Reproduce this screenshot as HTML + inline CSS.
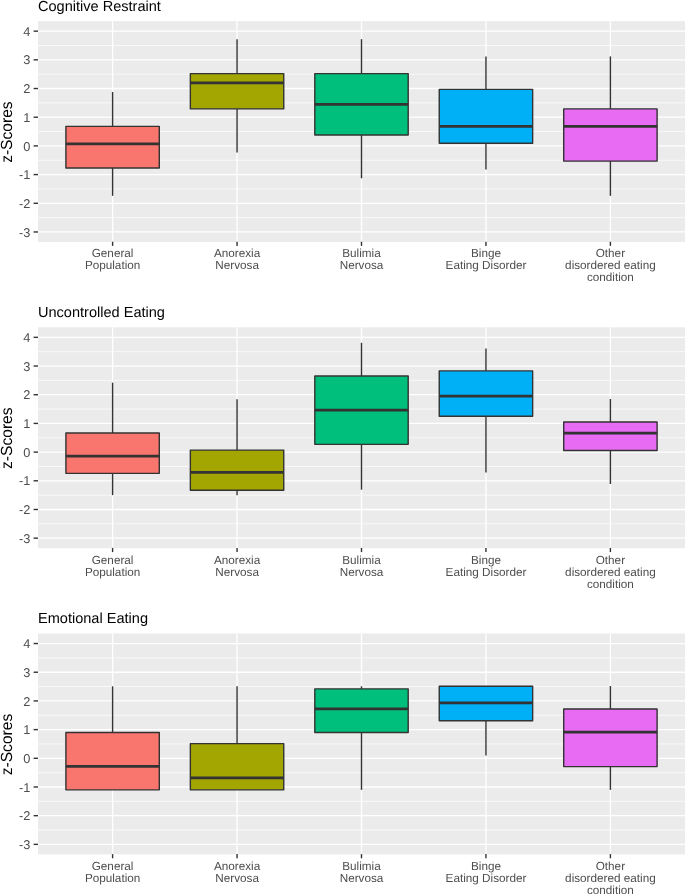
<!DOCTYPE html>
<html lang="en"><head><meta charset="utf-8"><title>Eating behaviour z-Scores</title>
<style>html,body{margin:0;padding:0;background:#fff}body{width:685px;height:895px;overflow:hidden}svg{display:block}text{font-family:"Liberation Sans",Arial,sans-serif;text-rendering:geometricPrecision}
.t{font-size:14.55px;fill:#000}.yt{font-size:15.6px;fill:#000}.ax{font-size:11.73px;fill:#4d4d4d}.ay{font-size:12.8px;fill:#4d4d4d}</style></head><body>
<svg width="685" height="895" viewBox="0 0 685 895">
<rect width="685" height="895" fill="#fff"/>
<g>
<text class="t" x="38.0" y="11.0">Cognitive Restraint</text>
<rect x="38.00" y="21.10" width="647.20" height="220.90" fill="#ebebeb"/>
<line x1="38.00" x2="685.20" y1="217.63" y2="217.63" stroke="#fff" stroke-width="0.7"/>
<line x1="38.00" x2="685.20" y1="188.94" y2="188.94" stroke="#fff" stroke-width="0.7"/>
<line x1="38.00" x2="685.20" y1="160.25" y2="160.25" stroke="#fff" stroke-width="0.7"/>
<line x1="38.00" x2="685.20" y1="131.56" y2="131.56" stroke="#fff" stroke-width="0.7"/>
<line x1="38.00" x2="685.20" y1="102.87" y2="102.87" stroke="#fff" stroke-width="0.7"/>
<line x1="38.00" x2="685.20" y1="74.18" y2="74.18" stroke="#fff" stroke-width="0.7"/>
<line x1="38.00" x2="685.20" y1="45.49" y2="45.49" stroke="#fff" stroke-width="0.7"/>
<line x1="38.00" x2="685.20" y1="231.97" y2="231.97" stroke="#fff" stroke-width="1.3"/>
<line x1="38.00" x2="685.20" y1="203.28" y2="203.28" stroke="#fff" stroke-width="1.3"/>
<line x1="38.00" x2="685.20" y1="174.59" y2="174.59" stroke="#fff" stroke-width="1.3"/>
<line x1="38.00" x2="685.20" y1="145.90" y2="145.90" stroke="#fff" stroke-width="1.3"/>
<line x1="38.00" x2="685.20" y1="117.21" y2="117.21" stroke="#fff" stroke-width="1.3"/>
<line x1="38.00" x2="685.20" y1="88.52" y2="88.52" stroke="#fff" stroke-width="1.3"/>
<line x1="38.00" x2="685.20" y1="59.83" y2="59.83" stroke="#fff" stroke-width="1.3"/>
<line x1="38.00" x2="685.20" y1="31.14" y2="31.14" stroke="#fff" stroke-width="1.3"/>
<line x1="112.60" x2="112.60" y1="21.10" y2="242.00" stroke="#fff" stroke-width="1.3"/>
<line x1="237.05" x2="237.05" y1="21.10" y2="242.00" stroke="#fff" stroke-width="1.3"/>
<line x1="361.50" x2="361.50" y1="21.10" y2="242.00" stroke="#fff" stroke-width="1.3"/>
<line x1="485.95" x2="485.95" y1="21.10" y2="242.00" stroke="#fff" stroke-width="1.3"/>
<line x1="610.40" x2="610.40" y1="21.10" y2="242.00" stroke="#fff" stroke-width="1.3"/>
<line x1="112.60" x2="112.60" y1="91.96" y2="126.39" stroke="#333333" stroke-width="1.4"/>
<line x1="112.60" x2="112.60" y1="167.99" y2="195.82" stroke="#333333" stroke-width="1.4"/>
<rect x="65.90" y="126.39" width="93.40" height="41.60" fill="#F8766D" stroke="#333333" stroke-width="1.4" stroke-linejoin="round"/>
<line x1="65.90" x2="159.30" y1="143.89" y2="143.89" stroke="#333333" stroke-width="2.8"/>
<line x1="237.05" x2="237.05" y1="39.17" y2="73.60" stroke="#333333" stroke-width="1.4"/>
<line x1="237.05" x2="237.05" y1="108.89" y2="152.50" stroke="#333333" stroke-width="1.4"/>
<rect x="190.35" y="73.60" width="93.40" height="35.29" fill="#A3A500" stroke="#333333" stroke-width="1.4" stroke-linejoin="round"/>
<line x1="190.35" x2="283.75" y1="82.78" y2="82.78" stroke="#333333" stroke-width="2.8"/>
<line x1="361.50" x2="361.50" y1="39.17" y2="73.60" stroke="#333333" stroke-width="1.4"/>
<line x1="361.50" x2="361.50" y1="135.00" y2="178.32" stroke="#333333" stroke-width="1.4"/>
<rect x="314.80" y="73.60" width="93.40" height="61.40" fill="#00BF7D" stroke="#333333" stroke-width="1.4" stroke-linejoin="round"/>
<line x1="314.80" x2="408.20" y1="104.30" y2="104.30" stroke="#333333" stroke-width="2.8"/>
<line x1="485.95" x2="485.95" y1="56.39" y2="89.38" stroke="#333333" stroke-width="1.4"/>
<line x1="485.95" x2="485.95" y1="143.32" y2="169.43" stroke="#333333" stroke-width="1.4"/>
<rect x="439.25" y="89.38" width="93.40" height="53.94" fill="#00B0F6" stroke="#333333" stroke-width="1.4" stroke-linejoin="round"/>
<line x1="439.25" x2="532.65" y1="126.39" y2="126.39" stroke="#333333" stroke-width="2.8"/>
<line x1="610.40" x2="610.40" y1="56.39" y2="108.89" stroke="#333333" stroke-width="1.4"/>
<line x1="610.40" x2="610.40" y1="161.11" y2="195.82" stroke="#333333" stroke-width="1.4"/>
<rect x="563.70" y="108.89" width="93.40" height="52.22" fill="#E76BF3" stroke="#333333" stroke-width="1.4" stroke-linejoin="round"/>
<line x1="563.70" x2="657.10" y1="126.39" y2="126.39" stroke="#333333" stroke-width="2.8"/>
<line x1="33.60" x2="38.00" y1="231.97" y2="231.97" stroke="#333" stroke-width="1.4"/>
<text class="ay" x="30.4" y="236.5" text-anchor="end">-3</text>
<line x1="33.60" x2="38.00" y1="203.28" y2="203.28" stroke="#333" stroke-width="1.4"/>
<text class="ay" x="30.4" y="207.8" text-anchor="end">-2</text>
<line x1="33.60" x2="38.00" y1="174.59" y2="174.59" stroke="#333" stroke-width="1.4"/>
<text class="ay" x="30.4" y="179.1" text-anchor="end">-1</text>
<line x1="33.60" x2="38.00" y1="145.90" y2="145.90" stroke="#333" stroke-width="1.4"/>
<text class="ay" x="30.4" y="150.5" text-anchor="end">0</text>
<line x1="33.60" x2="38.00" y1="117.21" y2="117.21" stroke="#333" stroke-width="1.4"/>
<text class="ay" x="30.4" y="121.8" text-anchor="end">1</text>
<line x1="33.60" x2="38.00" y1="88.52" y2="88.52" stroke="#333" stroke-width="1.4"/>
<text class="ay" x="30.4" y="93.1" text-anchor="end">2</text>
<line x1="33.60" x2="38.00" y1="59.83" y2="59.83" stroke="#333" stroke-width="1.4"/>
<text class="ay" x="30.4" y="64.4" text-anchor="end">3</text>
<line x1="33.60" x2="38.00" y1="31.14" y2="31.14" stroke="#333" stroke-width="1.4"/>
<text class="ay" x="30.4" y="35.7" text-anchor="end">4</text>
<line x1="112.60" x2="112.60" y1="241.70" y2="245.90" stroke="#333" stroke-width="1.4"/>
<text class="ax" x="112.6" y="257.4" text-anchor="middle">General</text>
<text class="ax" x="112.6" y="269.3" text-anchor="middle">Population</text>
<line x1="237.05" x2="237.05" y1="241.70" y2="245.90" stroke="#333" stroke-width="1.4"/>
<text class="ax" x="237.1" y="257.4" text-anchor="middle">Anorexia</text>
<text class="ax" x="237.1" y="269.3" text-anchor="middle">Nervosa</text>
<line x1="361.50" x2="361.50" y1="241.70" y2="245.90" stroke="#333" stroke-width="1.4"/>
<text class="ax" x="361.5" y="257.4" text-anchor="middle">Bulimia</text>
<text class="ax" x="361.5" y="269.3" text-anchor="middle">Nervosa</text>
<line x1="485.95" x2="485.95" y1="241.70" y2="245.90" stroke="#333" stroke-width="1.4"/>
<text class="ax" x="486.0" y="257.4" text-anchor="middle">Binge</text>
<text class="ax" x="486.0" y="269.3" text-anchor="middle">Eating Disorder</text>
<line x1="610.40" x2="610.40" y1="241.70" y2="245.90" stroke="#333" stroke-width="1.4"/>
<text class="ax" x="610.4" y="257.4" text-anchor="middle">Other</text>
<text class="ax" x="610.4" y="269.3" text-anchor="middle">disordered eating</text>
<text class="ax" x="610.4" y="281.2" text-anchor="middle">condition</text>
<text class="yt" transform="translate(12.1,132.1) rotate(-90) scale(1,1.03)" text-anchor="middle">z-Scores</text>
</g>
<g>
<text class="t" x="38.0" y="317.2">Uncontrolled Eating</text>
<rect x="38.00" y="327.30" width="647.20" height="220.90" fill="#ebebeb"/>
<line x1="38.00" x2="685.20" y1="523.83" y2="523.83" stroke="#fff" stroke-width="0.7"/>
<line x1="38.00" x2="685.20" y1="495.14" y2="495.14" stroke="#fff" stroke-width="0.7"/>
<line x1="38.00" x2="685.20" y1="466.45" y2="466.45" stroke="#fff" stroke-width="0.7"/>
<line x1="38.00" x2="685.20" y1="437.76" y2="437.76" stroke="#fff" stroke-width="0.7"/>
<line x1="38.00" x2="685.20" y1="409.07" y2="409.07" stroke="#fff" stroke-width="0.7"/>
<line x1="38.00" x2="685.20" y1="380.38" y2="380.38" stroke="#fff" stroke-width="0.7"/>
<line x1="38.00" x2="685.20" y1="351.69" y2="351.69" stroke="#fff" stroke-width="0.7"/>
<line x1="38.00" x2="685.20" y1="538.17" y2="538.17" stroke="#fff" stroke-width="1.3"/>
<line x1="38.00" x2="685.20" y1="509.48" y2="509.48" stroke="#fff" stroke-width="1.3"/>
<line x1="38.00" x2="685.20" y1="480.79" y2="480.79" stroke="#fff" stroke-width="1.3"/>
<line x1="38.00" x2="685.20" y1="452.10" y2="452.10" stroke="#fff" stroke-width="1.3"/>
<line x1="38.00" x2="685.20" y1="423.41" y2="423.41" stroke="#fff" stroke-width="1.3"/>
<line x1="38.00" x2="685.20" y1="394.72" y2="394.72" stroke="#fff" stroke-width="1.3"/>
<line x1="38.00" x2="685.20" y1="366.03" y2="366.03" stroke="#fff" stroke-width="1.3"/>
<line x1="38.00" x2="685.20" y1="337.34" y2="337.34" stroke="#fff" stroke-width="1.3"/>
<line x1="112.60" x2="112.60" y1="327.30" y2="548.20" stroke="#fff" stroke-width="1.3"/>
<line x1="237.05" x2="237.05" y1="327.30" y2="548.20" stroke="#fff" stroke-width="1.3"/>
<line x1="361.50" x2="361.50" y1="327.30" y2="548.20" stroke="#fff" stroke-width="1.3"/>
<line x1="485.95" x2="485.95" y1="327.30" y2="548.20" stroke="#fff" stroke-width="1.3"/>
<line x1="610.40" x2="610.40" y1="327.30" y2="548.20" stroke="#fff" stroke-width="1.3"/>
<line x1="112.60" x2="112.60" y1="382.67" y2="432.99" stroke="#333333" stroke-width="1.4"/>
<line x1="112.60" x2="112.60" y1="473.33" y2="495.14" stroke="#333333" stroke-width="1.4"/>
<rect x="65.90" y="432.99" width="93.40" height="40.34" fill="#F8766D" stroke="#333333" stroke-width="1.4" stroke-linejoin="round"/>
<line x1="65.90" x2="159.30" y1="456.12" y2="456.12" stroke="#333333" stroke-width="2.8"/>
<line x1="237.05" x2="237.05" y1="399.31" y2="450.09" stroke="#333333" stroke-width="1.4"/>
<line x1="237.05" x2="237.05" y1="490.26" y2="495.14" stroke="#333333" stroke-width="1.4"/>
<rect x="190.35" y="450.09" width="93.40" height="40.17" fill="#A3A500" stroke="#333333" stroke-width="1.4" stroke-linejoin="round"/>
<line x1="190.35" x2="283.75" y1="472.47" y2="472.47" stroke="#333333" stroke-width="2.8"/>
<line x1="361.50" x2="361.50" y1="342.79" y2="376.07" stroke="#333333" stroke-width="1.4"/>
<line x1="361.50" x2="361.50" y1="444.36" y2="489.69" stroke="#333333" stroke-width="1.4"/>
<rect x="314.80" y="376.07" width="93.40" height="68.28" fill="#00BF7D" stroke="#333333" stroke-width="1.4" stroke-linejoin="round"/>
<line x1="314.80" x2="408.20" y1="410.21" y2="410.21" stroke="#333333" stroke-width="2.8"/>
<line x1="485.95" x2="485.95" y1="348.53" y2="370.91" stroke="#333333" stroke-width="1.4"/>
<line x1="485.95" x2="485.95" y1="416.24" y2="472.47" stroke="#333333" stroke-width="1.4"/>
<rect x="439.25" y="370.91" width="93.40" height="45.33" fill="#00B0F6" stroke="#333333" stroke-width="1.4" stroke-linejoin="round"/>
<line x1="439.25" x2="532.65" y1="396.16" y2="396.16" stroke="#333333" stroke-width="2.8"/>
<line x1="610.40" x2="610.40" y1="399.02" y2="421.98" stroke="#333333" stroke-width="1.4"/>
<line x1="610.40" x2="610.40" y1="450.49" y2="483.95" stroke="#333333" stroke-width="1.4"/>
<rect x="563.70" y="421.98" width="93.40" height="28.52" fill="#E76BF3" stroke="#333333" stroke-width="1.4" stroke-linejoin="round"/>
<line x1="563.70" x2="657.10" y1="433.17" y2="433.17" stroke="#333333" stroke-width="2.8"/>
<line x1="33.60" x2="38.00" y1="538.17" y2="538.17" stroke="#333" stroke-width="1.4"/>
<text class="ay" x="30.4" y="542.7" text-anchor="end">-3</text>
<line x1="33.60" x2="38.00" y1="509.48" y2="509.48" stroke="#333" stroke-width="1.4"/>
<text class="ay" x="30.4" y="514.0" text-anchor="end">-2</text>
<line x1="33.60" x2="38.00" y1="480.79" y2="480.79" stroke="#333" stroke-width="1.4"/>
<text class="ay" x="30.4" y="485.3" text-anchor="end">-1</text>
<line x1="33.60" x2="38.00" y1="452.10" y2="452.10" stroke="#333" stroke-width="1.4"/>
<text class="ay" x="30.4" y="456.7" text-anchor="end">0</text>
<line x1="33.60" x2="38.00" y1="423.41" y2="423.41" stroke="#333" stroke-width="1.4"/>
<text class="ay" x="30.4" y="428.0" text-anchor="end">1</text>
<line x1="33.60" x2="38.00" y1="394.72" y2="394.72" stroke="#333" stroke-width="1.4"/>
<text class="ay" x="30.4" y="399.3" text-anchor="end">2</text>
<line x1="33.60" x2="38.00" y1="366.03" y2="366.03" stroke="#333" stroke-width="1.4"/>
<text class="ay" x="30.4" y="370.6" text-anchor="end">3</text>
<line x1="33.60" x2="38.00" y1="337.34" y2="337.34" stroke="#333" stroke-width="1.4"/>
<text class="ay" x="30.4" y="341.9" text-anchor="end">4</text>
<line x1="112.60" x2="112.60" y1="547.90" y2="552.10" stroke="#333" stroke-width="1.4"/>
<text class="ax" x="112.6" y="563.6" text-anchor="middle">General</text>
<text class="ax" x="112.6" y="575.5" text-anchor="middle">Population</text>
<line x1="237.05" x2="237.05" y1="547.90" y2="552.10" stroke="#333" stroke-width="1.4"/>
<text class="ax" x="237.1" y="563.6" text-anchor="middle">Anorexia</text>
<text class="ax" x="237.1" y="575.5" text-anchor="middle">Nervosa</text>
<line x1="361.50" x2="361.50" y1="547.90" y2="552.10" stroke="#333" stroke-width="1.4"/>
<text class="ax" x="361.5" y="563.6" text-anchor="middle">Bulimia</text>
<text class="ax" x="361.5" y="575.5" text-anchor="middle">Nervosa</text>
<line x1="485.95" x2="485.95" y1="547.90" y2="552.10" stroke="#333" stroke-width="1.4"/>
<text class="ax" x="486.0" y="563.6" text-anchor="middle">Binge</text>
<text class="ax" x="486.0" y="575.5" text-anchor="middle">Eating Disorder</text>
<line x1="610.40" x2="610.40" y1="547.90" y2="552.10" stroke="#333" stroke-width="1.4"/>
<text class="ax" x="610.4" y="563.6" text-anchor="middle">Other</text>
<text class="ax" x="610.4" y="575.5" text-anchor="middle">disordered eating</text>
<text class="ax" x="610.4" y="587.5" text-anchor="middle">condition</text>
<text class="yt" transform="translate(12.1,438.2) rotate(-90) scale(1,1.03)" text-anchor="middle">z-Scores</text>
</g>
<g>
<text class="t" x="38.0" y="623.4">Emotional Eating</text>
<rect x="38.00" y="633.50" width="647.20" height="220.90" fill="#ebebeb"/>
<line x1="38.00" x2="685.20" y1="830.03" y2="830.03" stroke="#fff" stroke-width="0.7"/>
<line x1="38.00" x2="685.20" y1="801.34" y2="801.34" stroke="#fff" stroke-width="0.7"/>
<line x1="38.00" x2="685.20" y1="772.65" y2="772.65" stroke="#fff" stroke-width="0.7"/>
<line x1="38.00" x2="685.20" y1="743.96" y2="743.96" stroke="#fff" stroke-width="0.7"/>
<line x1="38.00" x2="685.20" y1="715.27" y2="715.27" stroke="#fff" stroke-width="0.7"/>
<line x1="38.00" x2="685.20" y1="686.58" y2="686.58" stroke="#fff" stroke-width="0.7"/>
<line x1="38.00" x2="685.20" y1="657.89" y2="657.89" stroke="#fff" stroke-width="0.7"/>
<line x1="38.00" x2="685.20" y1="844.37" y2="844.37" stroke="#fff" stroke-width="1.3"/>
<line x1="38.00" x2="685.20" y1="815.68" y2="815.68" stroke="#fff" stroke-width="1.3"/>
<line x1="38.00" x2="685.20" y1="786.99" y2="786.99" stroke="#fff" stroke-width="1.3"/>
<line x1="38.00" x2="685.20" y1="758.30" y2="758.30" stroke="#fff" stroke-width="1.3"/>
<line x1="38.00" x2="685.20" y1="729.61" y2="729.61" stroke="#fff" stroke-width="1.3"/>
<line x1="38.00" x2="685.20" y1="700.92" y2="700.92" stroke="#fff" stroke-width="1.3"/>
<line x1="38.00" x2="685.20" y1="672.23" y2="672.23" stroke="#fff" stroke-width="1.3"/>
<line x1="38.00" x2="685.20" y1="643.54" y2="643.54" stroke="#fff" stroke-width="1.3"/>
<line x1="112.60" x2="112.60" y1="633.50" y2="854.40" stroke="#fff" stroke-width="1.3"/>
<line x1="237.05" x2="237.05" y1="633.50" y2="854.40" stroke="#fff" stroke-width="1.3"/>
<line x1="361.50" x2="361.50" y1="633.50" y2="854.40" stroke="#fff" stroke-width="1.3"/>
<line x1="485.95" x2="485.95" y1="633.50" y2="854.40" stroke="#fff" stroke-width="1.3"/>
<line x1="610.40" x2="610.40" y1="633.50" y2="854.40" stroke="#fff" stroke-width="1.3"/>
<line x1="112.60" x2="112.60" y1="686.29" y2="732.48" stroke="#333333" stroke-width="1.4"/>
<rect x="65.90" y="732.48" width="93.40" height="57.38" fill="#F8766D" stroke="#333333" stroke-width="1.4" stroke-linejoin="round"/>
<line x1="65.90" x2="159.30" y1="766.33" y2="766.33" stroke="#333333" stroke-width="2.8"/>
<line x1="237.05" x2="237.05" y1="686.29" y2="743.67" stroke="#333333" stroke-width="1.4"/>
<rect x="190.35" y="743.67" width="93.40" height="46.19" fill="#A3A500" stroke="#333333" stroke-width="1.4" stroke-linejoin="round"/>
<line x1="190.35" x2="283.75" y1="777.81" y2="777.81" stroke="#333333" stroke-width="2.8"/>
<line x1="361.50" x2="361.50" y1="686.29" y2="688.87" stroke="#333333" stroke-width="1.4"/>
<line x1="361.50" x2="361.50" y1="732.48" y2="789.86" stroke="#333333" stroke-width="1.4"/>
<rect x="314.80" y="688.87" width="93.40" height="43.61" fill="#00BF7D" stroke="#333333" stroke-width="1.4" stroke-linejoin="round"/>
<line x1="314.80" x2="408.20" y1="708.95" y2="708.95" stroke="#333333" stroke-width="2.8"/>
<line x1="485.95" x2="485.95" y1="720.72" y2="755.43" stroke="#333333" stroke-width="1.4"/>
<rect x="439.25" y="686.29" width="93.40" height="34.43" fill="#00B0F6" stroke="#333333" stroke-width="1.4" stroke-linejoin="round"/>
<line x1="439.25" x2="532.65" y1="702.93" y2="702.93" stroke="#333333" stroke-width="2.8"/>
<line x1="610.40" x2="610.40" y1="686.00" y2="708.95" stroke="#333333" stroke-width="1.4"/>
<line x1="610.40" x2="610.40" y1="766.62" y2="789.86" stroke="#333333" stroke-width="1.4"/>
<rect x="563.70" y="708.95" width="93.40" height="57.67" fill="#E76BF3" stroke="#333333" stroke-width="1.4" stroke-linejoin="round"/>
<line x1="563.70" x2="657.10" y1="732.19" y2="732.19" stroke="#333333" stroke-width="2.8"/>
<line x1="33.60" x2="38.00" y1="844.37" y2="844.37" stroke="#333" stroke-width="1.4"/>
<text class="ay" x="30.4" y="848.9" text-anchor="end">-3</text>
<line x1="33.60" x2="38.00" y1="815.68" y2="815.68" stroke="#333" stroke-width="1.4"/>
<text class="ay" x="30.4" y="820.2" text-anchor="end">-2</text>
<line x1="33.60" x2="38.00" y1="786.99" y2="786.99" stroke="#333" stroke-width="1.4"/>
<text class="ay" x="30.4" y="791.5" text-anchor="end">-1</text>
<line x1="33.60" x2="38.00" y1="758.30" y2="758.30" stroke="#333" stroke-width="1.4"/>
<text class="ay" x="30.4" y="762.9" text-anchor="end">0</text>
<line x1="33.60" x2="38.00" y1="729.61" y2="729.61" stroke="#333" stroke-width="1.4"/>
<text class="ay" x="30.4" y="734.2" text-anchor="end">1</text>
<line x1="33.60" x2="38.00" y1="700.92" y2="700.92" stroke="#333" stroke-width="1.4"/>
<text class="ay" x="30.4" y="705.5" text-anchor="end">2</text>
<line x1="33.60" x2="38.00" y1="672.23" y2="672.23" stroke="#333" stroke-width="1.4"/>
<text class="ay" x="30.4" y="676.8" text-anchor="end">3</text>
<line x1="33.60" x2="38.00" y1="643.54" y2="643.54" stroke="#333" stroke-width="1.4"/>
<text class="ay" x="30.4" y="648.1" text-anchor="end">4</text>
<line x1="112.60" x2="112.60" y1="854.10" y2="858.30" stroke="#333" stroke-width="1.4"/>
<text class="ax" x="112.6" y="869.8" text-anchor="middle">General</text>
<text class="ax" x="112.6" y="881.7" text-anchor="middle">Population</text>
<line x1="237.05" x2="237.05" y1="854.10" y2="858.30" stroke="#333" stroke-width="1.4"/>
<text class="ax" x="237.1" y="869.8" text-anchor="middle">Anorexia</text>
<text class="ax" x="237.1" y="881.7" text-anchor="middle">Nervosa</text>
<line x1="361.50" x2="361.50" y1="854.10" y2="858.30" stroke="#333" stroke-width="1.4"/>
<text class="ax" x="361.5" y="869.8" text-anchor="middle">Bulimia</text>
<text class="ax" x="361.5" y="881.7" text-anchor="middle">Nervosa</text>
<line x1="485.95" x2="485.95" y1="854.10" y2="858.30" stroke="#333" stroke-width="1.4"/>
<text class="ax" x="486.0" y="869.8" text-anchor="middle">Binge</text>
<text class="ax" x="486.0" y="881.7" text-anchor="middle">Eating Disorder</text>
<line x1="610.40" x2="610.40" y1="854.10" y2="858.30" stroke="#333" stroke-width="1.4"/>
<text class="ax" x="610.4" y="869.8" text-anchor="middle">Other</text>
<text class="ax" x="610.4" y="881.7" text-anchor="middle">disordered eating</text>
<text class="ax" x="610.4" y="893.6" text-anchor="middle">condition</text>
<text class="yt" transform="translate(12.1,744.5) rotate(-90) scale(1,1.03)" text-anchor="middle">z-Scores</text>
</g>
</svg></body></html>
